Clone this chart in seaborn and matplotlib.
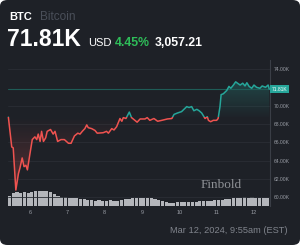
import numpy as np
import matplotlib
matplotlib.use("Agg")
import matplotlib.pyplot as plt
import seaborn as sns
from matplotlib.patches import Rectangle, FancyBboxPatch
from matplotlib.path import Path

# ==============================
# Data
# ==============================
# time axis in "day of March 2024", price in thousand USD
days = [5.42, 5.51, 5.55, 5.62, 5.69, 5.73, 5.79, 5.84, 5.89, 5.93,
        6.00, 6.06, 6.13, 6.18, 6.22, 6.27, 6.31, 6.36, 6.42, 6.46,
        6.55, 6.62, 6.67, 6.74, 6.83, 6.92, 7.03, 7.10, 7.19, 7.28,
        7.34, 7.40, 7.47, 7.52, 7.56, 7.65, 7.74, 7.80, 7.96, 8.05,
        8.10, 8.19, 8.25, 8.32, 8.41, 8.46, 8.50, 8.57, 8.66, 8.72,
        8.81, 8.87, 8.95, 9.08, 9.14, 9.21, 9.32, 9.42, 9.53, 9.68,
        9.80, 9.86, 9.95, 10.06, 10.20, 10.26, 10.33, 10.39, 10.47, 10.53,
        10.60, 10.69, 10.75, 10.78, 10.84, 10.91, 11.00, 11.04, 11.09, 11.12,
        11.18, 11.27, 11.33, 11.38, 11.45, 11.51, 11.56, 11.63, 11.70, 11.76,
        11.81, 11.87, 11.94, 12.00, 12.07, 12.16, 12.22, 12.31, 12.38, 12.41]
prices = [68.75, 65.5, 65.4, 60.8, 62.6, 63.2, 64.3, 63.35, 63.5, 63.0,
          64.8, 66.3, 66.6, 66.3, 66.9, 66.1, 67.2, 66.1, 66.5, 67.2,
          67.4, 66.9, 67.2, 66.1, 66.3, 66.3, 65.9, 65.9, 66.7, 67.0,
          66.9, 67.2, 67.5, 67.9, 67.6, 67.5, 67.3, 67.0, 67.05, 67.2,
          67.0, 67.5, 67.35, 67.7, 68.6, 68.3, 68.7, 68.6, 69.3, 68.7,
          68.4, 68.2, 68.55, 68.55, 68.7, 68.4, 68.6, 68.3, 68.4, 68.55,
          68.6, 69.05, 69.2, 69.35, 69.9, 69.8, 69.9, 69.45, 69.6, 69.45,
          69.2, 68.6, 68.8, 68.4, 68.25, 68.4, 68.4, 68.6, 69.9, 71.2,
          71.3, 71.65, 72.1, 71.9, 72.25, 72.6, 72.45, 72.25, 72.45, 72.15,
          72.5, 72.1, 71.9, 72.25, 72.0, 71.9, 72.15, 72.0, 72.25, 71.81]

vol_days = np.arange(5.45, 12.36, 0.1)
volume = [10, 13, 14, 13, 14, 13.5, 14, 15, 15, 15.5,
          15, 14, 12.5, 10, 9, 9.5, 8.5, 8.5, 8, 7.5,
          7.5, 6.5, 6, 5.5, 6, 5.5, 5.5, 6, 5, 5.5,
          6, 7, 7.5, 8, 8, 8.5, 8, 8, 8.5, 7.5,
          6.5, 5, 4, 3.5, 3.5, 4, 4, 4, 4.5, 4.5,
          4.5, 5, 5, 5.5, 5.5, 6, 6, 6.5, 7, 7.5,
          8, 8, 8.5, 9, 8.5, 9, 8.5, 8, 8.5, 8]

ytick_vals = [60, 62, 64, 66, 68, 70, 74]
xtick_vals = [6, 7, 8, 9, 10, 11, 12]

last_price = 71.81
change = 3.05721
open_price = last_price - change

BG = "#1e2127"
TEAL = "#26a69a"
RED = "#ef5350"
GRID = "#2a2e35"
TXT = "#9a9ea6"

sns.set_theme(style="dark")
plt.rcParams["font.family"] = ["Liberation Sans", "DejaVu Sans"]

fig = plt.figure(figsize=(3.0, 2.45), dpi=100, facecolor="white")
fig.patches.append(FancyBboxPatch((0, 0), 1, 1, boxstyle="round,pad=0,rounding_size=0.025",
                                  transform=fig.transFigure, facecolor=BG, edgecolor="none",
                                  zorder=-10))

rect = [8 / 300, 39 / 245, 262 / 300, 146 / 245]
xlim = (5.41, 12.43)

# volume bars underneath
ax_v = fig.add_axes(rect)
ax_v.bar(vol_days, volume, width=0.085, color="#b4b6bb", linewidth=0)
ax_v.set_xlim(*xlim)
ax_v.set_ylim(0, 146)
ax_v.axis("off")

# price panel on top
ax = fig.add_axes(rect)
ax.set_facecolor("none")
ax.set_zorder(ax_v.get_zorder() + 1)

d = np.array(days)
p = np.array(prices)

# gradient fills, clipped to the area between the line and the open price
up = ax.fill_between(d, open_price, p, where=p >= open_price, interpolate=True, color="none")
dn = ax.fill_between(d, open_price, p, where=p <= open_price, interpolate=True, color="none")

g = np.zeros((256, 1, 4))
g[..., :3] = matplotlib.colors.to_rgb(TEAL)
g[:, 0, 3] = np.linspace(0.02, 0.30, 256)
im = ax.imshow(g, extent=[xlim[0], xlim[1], open_price, 73.0], origin="lower", aspect="auto", zorder=1)
im.set_clip_path(Path.make_compound_path(*up.get_paths()), transform=ax.transData)

r = np.zeros((256, 1, 4))
r[..., :3] = matplotlib.colors.to_rgb(RED)
r[:, 0, 3] = np.linspace(0.30, 0.0, 256)
im2 = ax.imshow(r, extent=[xlim[0], xlim[1], 60.5, open_price], origin="lower", aspect="auto", zorder=1)
im2.set_clip_path(Path.make_compound_path(*dn.get_paths()), transform=ax.transData)

# current price line
ax.axhline(last_price, color="#1f5c57", lw=0.8, zorder=2)

# price line: teal above the open, red below
sns.lineplot(x=days, y=prices, ax=ax, color=TEAL, lw=1.1, estimator=None, sort=False, zorder=3)
ax.lines[-1].set_clip_path(Rectangle((0, open_price), 20, 30, transform=ax.transData))
sns.lineplot(x=days, y=prices, ax=ax, color=RED, lw=1.1, estimator=None, sort=False, zorder=3)
ax.lines[-1].set_clip_path(Rectangle((0, 40), 20, open_price - 40, transform=ax.transData))

ax.set_xlim(*xlim)
ax.set_ylim(59.06, 74.98)
ax.set_xlabel("")
ax.set_ylabel("")

ax.yaxis.tick_right()
ax.set_yticks(ytick_vals)
ax.set_yticklabels([f"{v:.2f}K" for v in ytick_vals])
ax.set_xticks(xtick_vals)
ax.set_xticklabels([str(v) for v in xtick_vals])
ax.tick_params(axis="y", length=0, pad=2.5, labelsize=3.6, labelcolor=TXT)
ax.tick_params(axis="x", length=0, pad=3, labelsize=4, labelcolor=TXT)
ax.grid(axis="y", color=GRID, lw=0.6)
ax.grid(axis="x", visible=False)
for s in ["left", "top", "bottom"]:
    ax.spines[s].set_visible(False)
ax.spines["right"].set_color("#3a3e46")
ax.spines["right"].set_linewidth(0.8)

# price tag at the right
ax.text(1.006, last_price, f"{last_price:.2f}K", transform=ax.get_yaxis_transform(),
        ha="left", va="center", fontsize=3.6, color="white", zorder=5,
        bbox=dict(boxstyle="square,pad=0.35", fc=TEAL, ec="none"))

# header
def fx(px):
    return px / 300

def fy(py):
    return 1 - py / 245

fig.text(fx(9), fy(17), "BTC", fontsize=8, fontweight="bold", color="white", va="center")
fig.text(fx(40), fy(17), "Bitcoin", fontsize=8.5, color="#4a4f59", va="center")
fig.text(fx(7), fy(46), "71.81K", fontsize=16.5, fontweight="bold", color="white", va="baseline")
fig.text(fx(88), fy(45.5), "USD", fontsize=8, color="white", va="baseline")
fig.text(fx(115), fy(45.5), "4.45%", fontsize=8.8, fontweight="bold", color="#2ebd59", va="baseline")
fig.text(fx(155), fy(45.5), "3,057.21", fontsize=8.8, fontweight="bold", color="white", va="baseline")

# watermark and footer
fig.text(fx(221), fy(185), "Finbold", fontsize=9.5, family="Liberation Serif", color="#8e9196",
         ha="center", va="center")
fig.text(fx(288), fy(230), "Mar 12, 2024, 9:55am (EST)", fontsize=6.7, color="#80848c",
         ha="right", va="center")

fig.savefig("out.png", dpi=100, facecolor=fig.get_facecolor())
